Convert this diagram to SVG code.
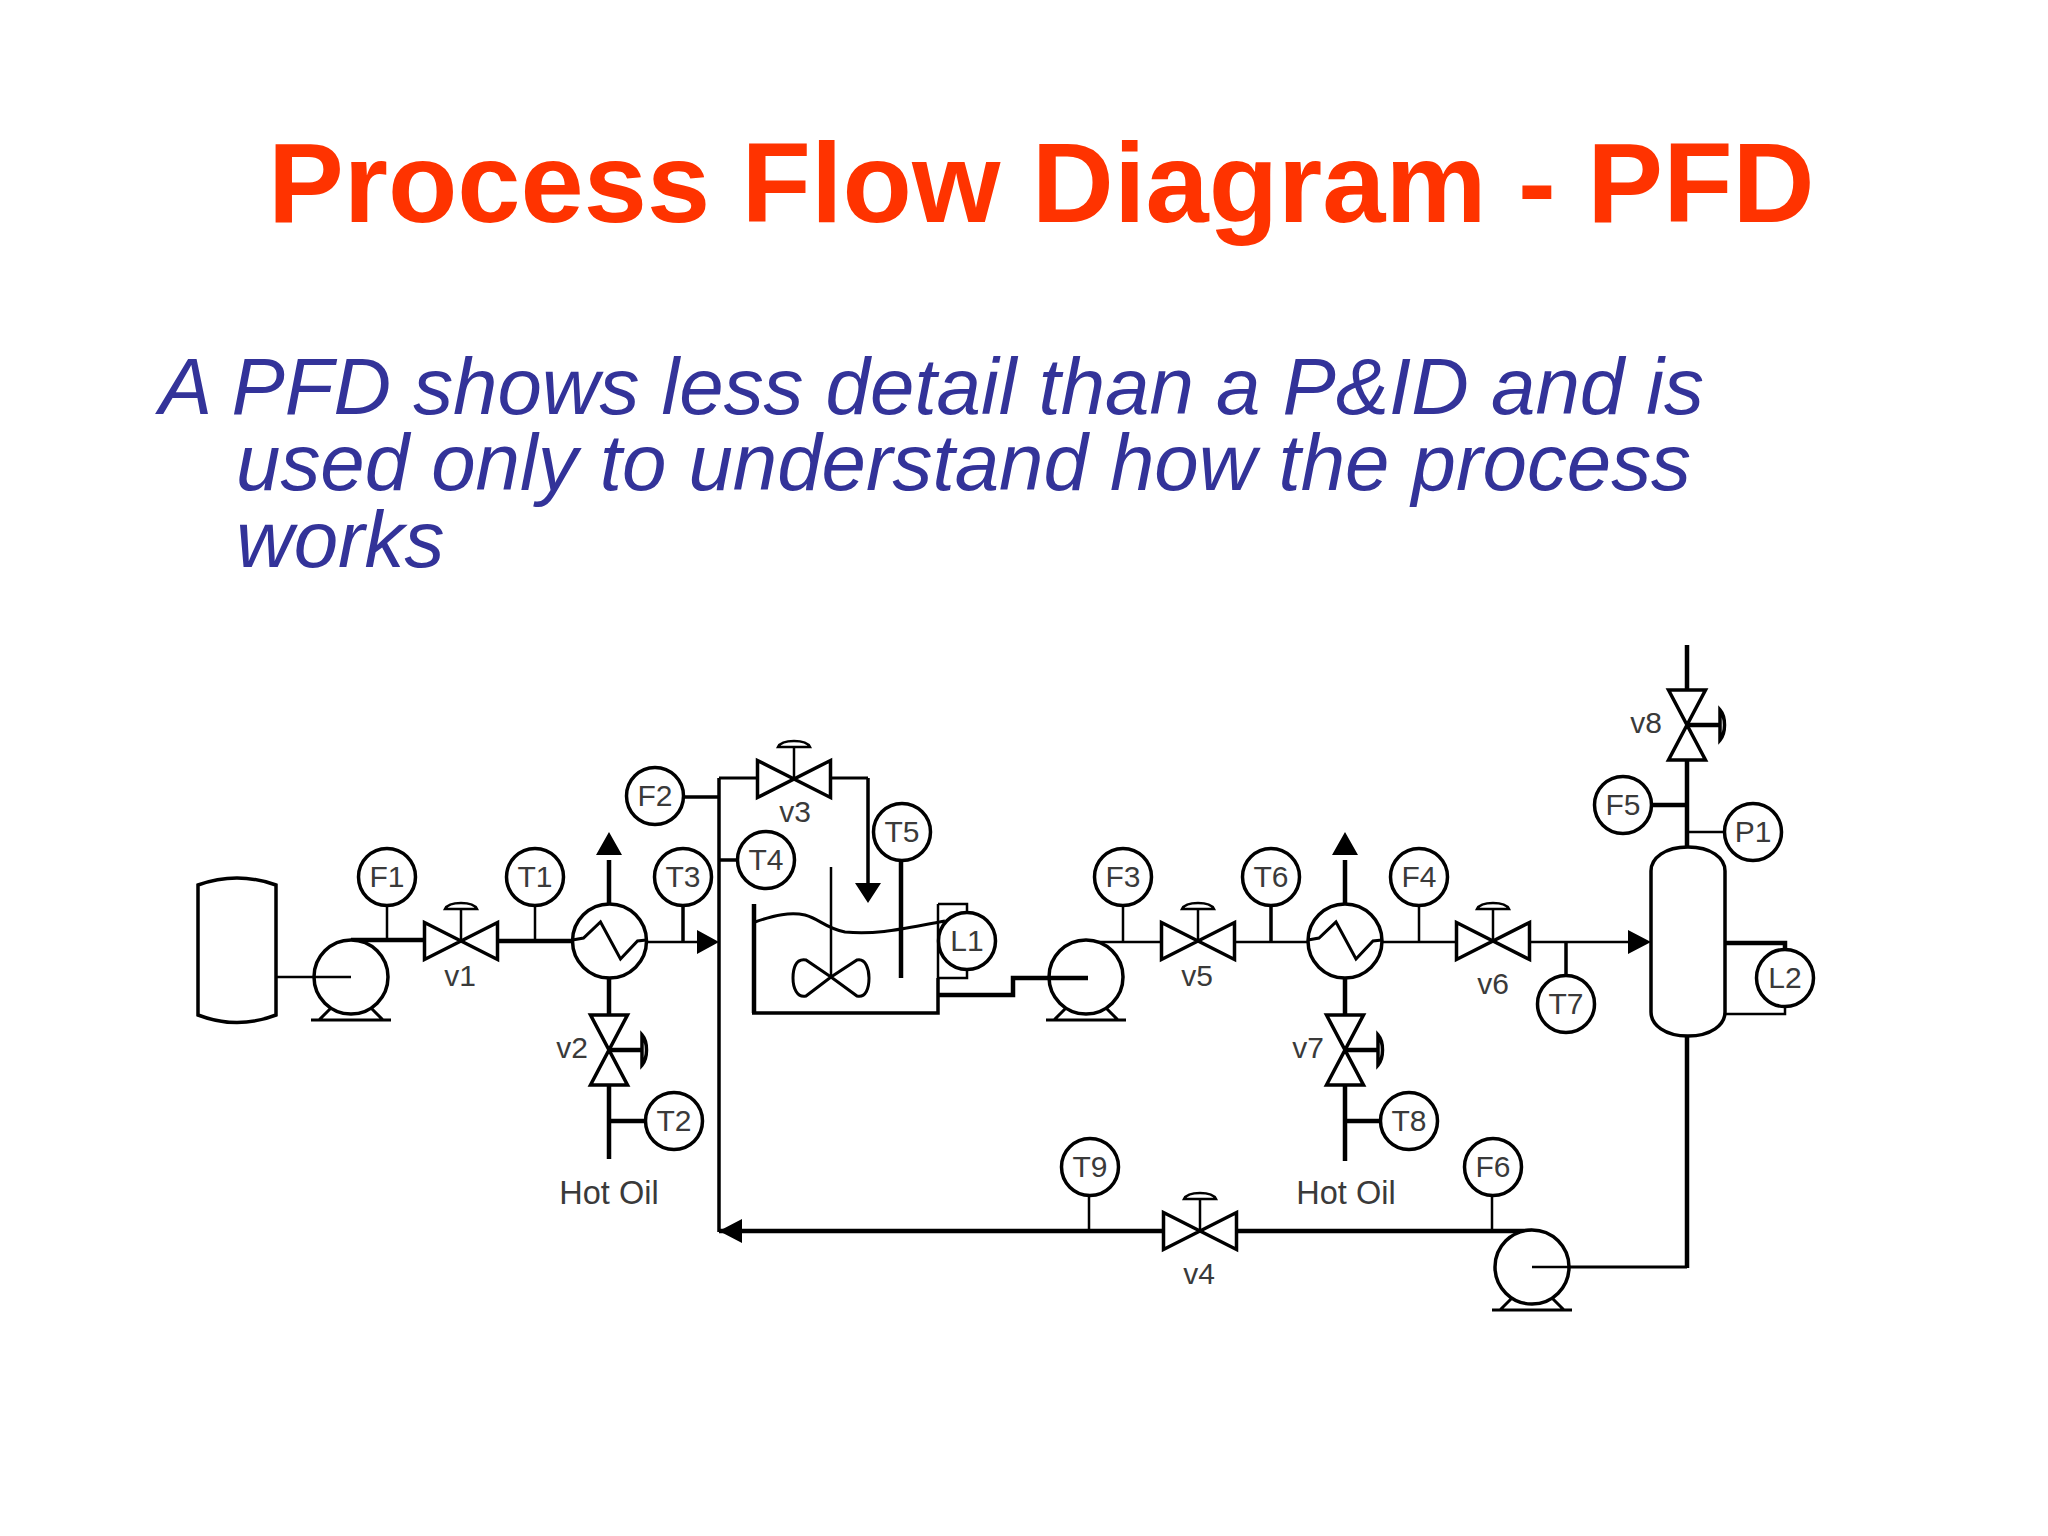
<svg xmlns="http://www.w3.org/2000/svg" xmlns:xlink="http://www.w3.org/1999/xlink" width="2048" height="1536" viewBox="0 0 2048 1536">
<style>
.title{font:bold 113.6px "Liberation Sans",Arial,sans-serif;fill:#ff3300}
.sub{font:italic 79.8px "Liberation Sans",Arial,sans-serif;fill:#333399}
.lbl{font:30px "Liberation Sans",Arial,sans-serif;fill:#3a3a3a;text-anchor:middle}
.oil{font-size:32.5px}
.eq{fill:#fff;stroke:#000;stroke-width:3.5}
.thin{fill:none;stroke:#000;stroke-width:2.5}
.thick{fill:none;stroke:#000;stroke-width:4.5}
.ah{fill:#000;stroke:none}
</style>
<defs>
<g id="valve"><path class="eq" d="M-36.500-18.500L36.500 18.500V-18.500L-36.500 18.500Z"/><path class="thin" d="M0 0V-32"/><path class="eq" style="stroke-width:2.5" d="M-16-32C-12-40 12-40 16-32Z"/></g>
<g id="vvalve"><path class="eq" d="M-18.500-35L18.500 35H-18.500L18.500-35Z"/><path class="thick" d="M0 0H34"/><path class="eq" d="M33-15C39-8 39 8 33 15Z"/></g>
<g id="pump"><path class="thin" d="M-40 43H40M-32 43L-20 31M32 43L20 31" style="stroke-width:3"/><circle class="eq" r="37"/></g>
<g id="hx"><circle class="eq" r="37"/><path class="thin" style="stroke-width:3" d="M-37-1L-26-3L-9-19L11 18L28 0L37-1"/></g>
<circle id="inst" class="eq" r="28.5"/>
</defs>
<rect width="2048" height="1536" fill="#fff"/>
<g id="heading">
<text class="title" x="268" y="222">Process Flow Diagram - PFD</text>
<text class="sub" x="159" y="414">A PFD shows less detail than a P&amp;ID and is</text>
<text class="sub" x="236" y="490">used only to understand how the process</text>
<text class="sub" x="236" y="567">works</text>
</g>
<g id="connectors">
<path class="thin" d="M276 977H351"/>
<path class="thick" d="M351 940H423M499 941H572"/>
<path class="thin" d="M387 905V940M535 905V941"/>
<path class="thick" d="M609 860V905M609 977V1014M609 1086V1159M609 1121H646"/>
<path class="thin" d="M646 942H700"/>
<path class="thick" style="stroke-width:3.5" d="M683 905V942"/>
<path class="thick" style="stroke-width:3.5" d="M719 778V1232"/>
<path class="thick" style="stroke-width:3" d="M719 778H757M831 778H868"/>
<path class="thick" d="M684 797H719M868 778V885M719 860H737" style="stroke-width:3.5"/>
<path class="thick" d="M719 1231H1163M1237 1231H1532"/>
<path class="thick" d="M901 860V978"/>
<path class="thick" d="M938 995H1013V978H1088"/>
<path class="thin" d="M1086 942H1161M1231 942H1308M1382 942H1455M1531 942H1632M1123 905V942M1419 905V942"/>
<path class="thick" style="stroke-width:3.5" d="M1271 905V942M1566 942V975"/>
<path class="thick" d="M1345 860V905M1345 977V1014M1345 1086V1161M1345 1121H1382M1687 645V689M1687 761V847M1651 805H1687M1687 1036V1268"/>
<path class="thin" d="M1687 832H1724M1089 1195V1231M1492 1195V1231"/>
<path class="thin" style="stroke-width:3" d="M1687 1267H1532"/>
<path class="thick" d="M1725 943H1785V949"/>
<path class="thin" d="M1725 1014H1785V1008M938 904H967V912M938 978H967V971"/>
<path class="ah" d="M609 832L622 855H596ZM719 942L697 930V954ZM868 903L855 883H881ZM1345 832L1358 855H1332ZM1651 942L1628 930V954ZM719 1231L742 1219V1243Z"/>
</g>
<g id="tank1"><path class="eq" d="M198 885Q237 871 276 885V1015Q237 1030 198 1015Z"/></g>
<g id="pump1"><use xlink:href="#pump" href="#pump" x="351" y="977"/><path class="thin" d="M314 977H351"/></g>
<g id="pump2"><use xlink:href="#pump" href="#pump" x="1086" y="977"/><path class="thick" d="M1049 978H1088"/></g>
<g id="pump3"><use xlink:href="#pump" href="#pump" x="1532" y="1267"/><path class="thin" d="M1532 1267H1569"/></g>
<g id="hx1"><use xlink:href="#hx" href="#hx" x="609.500" y="941"/></g>
<g id="hx2"><use xlink:href="#hx" href="#hx" x="1345" y="941"/></g>
<g id="reactor">
<path class="thick" d="M754 904V1013"/>
<path class="thin" style="stroke-width:3.500" d="M752 1013H938V978"/>
<path class="thin" d="M938 978V904"/>
<path class="thin" style="stroke-width:3" d="M755 922C775 915 790 912 805 915C820 919 825 928 845 932C880 935 905 928 945 921"/>
<path class="thin" d="M831 867V977"/>
<path class="thin" style="stroke-width:3" d="M831 977L806 960C795 958 793 970 793 978C793 988 797 998 806 996L831 977L857 960C866 958 869 970 869 978C869 988 866 998 857 996Z"/>
</g>
<g id="separator"><path class="eq" d="M1651 871C1651 858 1665 847 1688 847C1711 847 1725 858 1725 871V1012C1725 1025 1711 1036 1688 1036C1665 1036 1651 1025 1651 1012Z"/></g>
<g id="v1"><use xlink:href="#valve" href="#valve" x="461" y="941"/><text class="lbl" x="460" y="986">v1</text></g>
<g id="v2"><use xlink:href="#vvalve" href="#vvalve" x="609" y="1050"/><text class="lbl" x="572" y="1058">v2</text></g>
<g id="v3"><use xlink:href="#valve" href="#valve" x="794" y="779"/><text class="lbl" x="795" y="822">v3</text></g>
<g id="v4"><use xlink:href="#valve" href="#valve" x="1200" y="1231"/><text class="lbl" x="1199" y="1284">v4</text></g>
<g id="v5"><use xlink:href="#valve" href="#valve" x="1198" y="941"/><text class="lbl" x="1197" y="986">v5</text></g>
<g id="v6"><use xlink:href="#valve" href="#valve" x="1493" y="941"/><text class="lbl" x="1493" y="994">v6</text></g>
<g id="v7"><use xlink:href="#vvalve" href="#vvalve" x="1345" y="1050"/><text class="lbl" x="1308" y="1058">v7</text></g>
<g id="v8"><use xlink:href="#vvalve" href="#vvalve" x="1687" y="725"/><text class="lbl" x="1646" y="733">v8</text></g>
<g id="F1"><use xlink:href="#inst" href="#inst" x="387" y="877"/><text class="lbl" x="387" y="887">F1</text></g>
<g id="T1"><use xlink:href="#inst" href="#inst" x="535" y="877"/><text class="lbl" x="535" y="887">T1</text></g>
<g id="T3"><use xlink:href="#inst" href="#inst" x="683" y="877"/><text class="lbl" x="683" y="887">T3</text></g>
<g id="F2"><use xlink:href="#inst" href="#inst" x="655" y="796"/><text class="lbl" x="655" y="806">F2</text></g>
<g id="T4"><use xlink:href="#inst" href="#inst" x="766" y="860"/><text class="lbl" x="766" y="870">T4</text></g>
<g id="T5"><use xlink:href="#inst" href="#inst" x="902" y="832"/><text class="lbl" x="902" y="842">T5</text></g>
<g id="L1"><use xlink:href="#inst" href="#inst" x="967" y="941"/><text class="lbl" x="967" y="951">L1</text></g>
<g id="T2"><use xlink:href="#inst" href="#inst" x="674" y="1121"/><text class="lbl" x="674" y="1131">T2</text></g>
<g id="F3"><use xlink:href="#inst" href="#inst" x="1123" y="877"/><text class="lbl" x="1123" y="887">F3</text></g>
<g id="T6"><use xlink:href="#inst" href="#inst" x="1271" y="877"/><text class="lbl" x="1271" y="887">T6</text></g>
<g id="F4"><use xlink:href="#inst" href="#inst" x="1419" y="877"/><text class="lbl" x="1419" y="887">F4</text></g>
<g id="T7"><use xlink:href="#inst" href="#inst" x="1566" y="1004"/><text class="lbl" x="1566" y="1014">T7</text></g>
<g id="T8"><use xlink:href="#inst" href="#inst" x="1409" y="1121"/><text class="lbl" x="1409" y="1131">T8</text></g>
<g id="T9"><use xlink:href="#inst" href="#inst" x="1090" y="1167"/><text class="lbl" x="1090" y="1177">T9</text></g>
<g id="F6"><use xlink:href="#inst" href="#inst" x="1493" y="1167"/><text class="lbl" x="1493" y="1177">F6</text></g>
<g id="F5"><use xlink:href="#inst" href="#inst" x="1623" y="805"/><text class="lbl" x="1623" y="815">F5</text></g>
<g id="P1"><use xlink:href="#inst" href="#inst" x="1753" y="832"/><text class="lbl" x="1753" y="842">P1</text></g>
<g id="L2"><use xlink:href="#inst" href="#inst" x="1785" y="978"/><text class="lbl" x="1785" y="988">L2</text></g>
<g id="hotoil"><text class="lbl oil" x="609" y="1204">Hot Oil</text><text class="lbl oil" x="1346" y="1204">Hot Oil</text></g>
</svg>
